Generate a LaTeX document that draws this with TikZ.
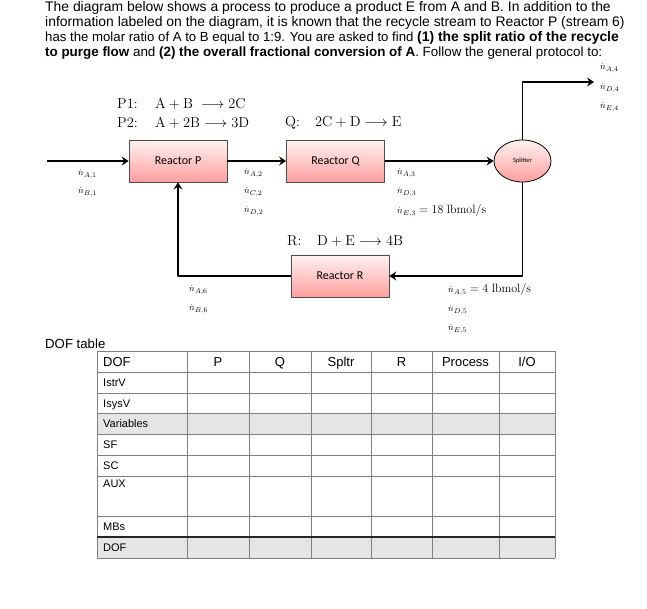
\documentclass[tikz,border=0pt]{standalone}
\usepackage[no-math]{fontspec}
\setmainfont{Liberation Sans}
\newfontfamily\calfont{Carlito}
\usetikzlibrary{shapes.geometric,arrows.meta}
\tikzset{
  reactor/.style={draw=gray!60!black,thick,top color=red!5,bottom color=red!38,minimum width=98pt,minimum height=42pt,font=\calfont\fontsize{12}{14}\selectfont},
  splitbox/.style={ellipse,draw=black,thick,top color=red!5,bottom color=red!38,minimum width=57pt,minimum height=42pt,inner sep=0pt,font=\calfont\fontsize{6.5}{8}\selectfont},
  flow/.style={line width=1.6pt,-{Stealth[length=7pt,width=9pt,inset=2.5pt]}},
  lbl/.style={font=\fontsize{9.5}{11}\selectfont,anchor=west,inner sep=0pt},
  rxn/.style={font=\fontsize{14.5}{16}\selectfont,anchor=west,inner sep=0pt},
  grid/.style={draw=gray,line width=1pt}
}
\newcommand\unitsz{\fontsize{12.5}{14}\selectfont}
\begin{document}
\begin{tikzpicture}[x=1pt,y=-1pt,line join=round]
\useasboundingbox (0,0) rectangle (647,609);
% problem statement
\begin{scope}[every node/.style={anchor=base west,inner sep=0pt,font=\fontsize{13.9}{15}\selectfont}]
\node (t1) at (45,12) {The diagram below shows a process to produce a product E from A and B. In addition to the};
\node (t2) at (45,27) {information labeled on the diagram, it is known that the recycle stream to Reactor P (stream 6)};
\node (t3) at (45,42) {{\fontsize{13.2}{15}\selectfont has the molar ratio of A to B equal to 1:9. You are asked to find }\textbf{(1) the split ratio of the recycle}};
\node[font=\fontsize{13.4}{15}\selectfont] (t4) at (45,57) {\textbf{to purge flow} and \textbf{(2) the overall fractional conversion of A}. Follow the general protocol to:};
\end{scope}
% units
\node[reactor] (P) at (178,161) {Reactor P};
\node[reactor] (Q) at (335.5,161) {Reactor Q};
\node[splitbox] (S) at (522.5,161) {Splitter};
\node[reactor] (R) at (340,276) {Reactor R};
\coordinate (in) at (47,161);
\coordinate (out) at (594,82);
\draw[flow] (in) -- (P);
\draw[flow] (P) -- (Q);
\draw[flow] (Q) -- (S);
\draw[flow] (S) |- (out);
\draw[flow] (S) |- (R);
\draw[flow] (R) -| (P);
% reactions
\node[rxn] (p1) at (117,104) {$\makebox[38pt][l]{$\mathrm{P1{:}}$}\mathrm{A}+\mathrm{B}\ \longrightarrow\mathrm{2C}$};
\node[rxn] (p2) at (117,123) {$\makebox[38pt][l]{$\mathrm{P2{:}}$}\mathrm{A}+\mathrm{2B}\longrightarrow\mathrm{3D}$};
\node[rxn] (q) at (285,123) {$\makebox[30pt][l]{$\mathrm{Q{:}}$}\mathrm{2C}+\mathrm{D}\longrightarrow\mathrm{E}$};
\node[rxn] (r) at (287,241) {$\makebox[30pt][l]{$\mathrm{R{:}}$}\mathrm{D}+\mathrm{E}\longrightarrow\mathrm{4B}$};
% stream labels
\foreach \x/\y/\g [count=\i] in {78/174/{A,1},78/192/{B,1},244/173/{A,2},244/192/{C,2},244/211/{D,2},
  397/173/{A,3},397/192/{D,3},600/68/{A,4},600/88/{D,4},600/107/{E,4},
  189/290/{A,6},189/309/{B,6},448/310/{D,5},448/329/{E,5}}
  \node[lbl] (n\i) at (\x,\y) {$\dot n_{\g}$};
\node[lbl] (e3) at (397,211) {$\dot n_{E,3}$\unitsz$\;=18\ \mathrm{lbmol/s}$};
\node[lbl] (a5) at (448,290) {$\dot n_{A,5}$\unitsz$\;=4\ \mathrm{lbmol/s}$};
% DOF table
\node[anchor=base west,inner sep=0pt,font=\fontsize{13.2}{15}\selectfont] (cap) at (45,348) {DOF table};
\fill[gray!20] (97,413) rectangle (555,434) (97,537) rectangle (555,558);
\foreach \y in {351,372,393,413,434,455,476,516,537,558}\draw[grid] (97,\y)--(555,\y);
\foreach \x in {97,187,249,311,371,432,499,555}\draw[grid] (\x,351)--(\x,558);
\draw[line width=1.6pt,gray!30!black] (97,537)--(555,537);
\node[font=\fontsize{13}{15}\selectfont,anchor=base west,inner sep=0pt] (h0) at (103,366) {DOF};
\foreach \x/\g [count=\i] in {218/P,280/Q,341/Spltr,401.5/R,465.5/Process,527/{I/O}}
  \node[font=\fontsize{13}{15}\selectfont,anchor=base] (h\i) at (\x,366) {\g};
\foreach \y/\g [count=\i] in {386.5/IstrV,407.5/IsysV,427.5/Variables,448.5/SF,469.5/SC,487.5/AUX,530.5/MBs,551.5/DOF}
  \node[font=\fontsize{11}{13}\selectfont,anchor=base west,inner sep=0pt] (r\i) at (103,\y) {\g};
\end{tikzpicture}
\end{document}
